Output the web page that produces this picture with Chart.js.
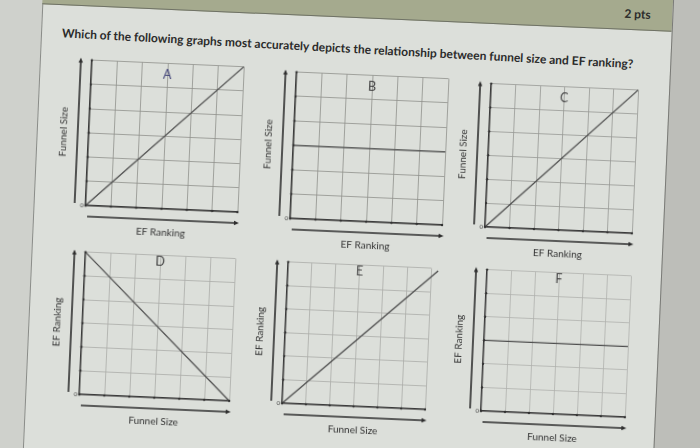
<!DOCTYPE html>
<html><head><meta charset="utf-8">
<script src="https://cdn.jsdelivr.net/npm/chart.js@4.4.1/dist/chart.umd.min.js"></script>
<style>
html,body{margin:0;padding:0;width:700px;height:448px;overflow:hidden;background:#c4c6c1;}
#rot{position:absolute;left:-50px;top:-56px;width:800px;height:560px;transform:rotate(2.5deg);transform-origin:400px 280px;}
#inner{position:absolute;left:50px;top:56px;width:700px;height:448px;}
.bgleft{position:absolute;left:-50px;top:-56px;width:83px;height:560px;background:#cfd1cc;}
.panel{position:absolute;left:33px;top:17px;width:630px;height:500px;background:#dcdfda;border-left:1px solid #8a8c88;}
.band{position:absolute;left:33px;top:-56px;width:630px;height:73px;background:#a5aa8e;border-bottom:1px solid #6f7266;}
.right{position:absolute;left:663px;top:-56px;width:100px;height:560px;background:#bdbeb9;border-left:1px solid #7a7b77;}
#q{position:absolute;left:54px;top:38px;font:bold 12px Lato, sans-serif;color:#2b2b2b;white-space:nowrap;transform-origin:0 50%;transform:rotate(0.6deg);}
#pts{position:absolute;left:615px;top:-6px;font:bold 12px Lato, sans-serif;color:#2b2b2b;}
canvas{position:absolute;}
</style></head>
<body>
<div id="rot"><div id="inner">
<div class="bgleft"></div>
<div class="panel"></div>
<div class="band"></div>
<div class="right"></div>
<div id="q">Which of the following graphs most accurately depicts the relationship between funnel size and EF ranking?</div>
<div id="pts">2 pts</div>
</div></div>
<script>
// ---- data ----
const panelLetters = ['A','B','C','D','E','F'];
const xAxisTitles = ['EF Ranking','EF Ranking','EF Ranking','Funnel Size','Funnel Size','Funnel Size'];
const yAxisTitles = ['Funnel Size','Funnel Size','Funnel Size','EF Ranking','EF Ranking','EF Ranking'];
const lineX = [[0,6],[0,6],[0,6],[0,6],[0,6.3],[0,6]];
const lineY = [[0,6],[3,3],[0,6],[6,0],[0,5.9],[3,3]];
const gridTicks = [0,1,2,3,4,5,6];
const originLabel = '0';

// ---- layout / style ----
const layoutTL = [[85,70.4],[290,72.5],[485.4,75.7],[87.4,261.5],[289.9,262.7],[488.5,262.3]];
const plotSize = [[152,147],[152,148],[147,145],[150,144],[143,143],[144,143]];
const letterDy = [11,11.5,11,6,6,6.5];
const letterColor = ['#45477a','#3f3f3f','#4a4a4a','#3f3f3f','#4a4a4a','#4a4a4a'];
const gridColor = ['#8f908c','#8f908c','#979894','#abaca8','#abaca8','#b0b1ad'];
const Y_W = 31, X_H = 30, PAD_T = 4, PAD_R = 8, GAP = 11;

const decor = {
  id:'decor',
  afterDraw(chart, args, opts){
    const {ctx, chartArea:a, scales:{x,y}} = chart;
    ctx.save();
    ctx.fillStyle = '#333';
    gridTicks.forEach(v=>{
      ctx.beginPath(); ctx.arc(x.getPixelForValue(v), a.bottom, 1.2, 0, Math.PI*2); ctx.fill();
      ctx.beginPath(); ctx.arc(a.left, y.getPixelForValue(v), 1.2, 0, Math.PI*2); ctx.fill();
    });
    ctx.strokeStyle = '#2e2e2e'; ctx.fillStyle = '#2e2e2e'; ctx.lineWidth = 1.6;
    const ax = a.left - GAP, ay = a.bottom + GAP;
    ctx.beginPath(); ctx.moveTo(ax, a.bottom-2); ctx.lineTo(ax, a.top+2); ctx.stroke();
    ctx.beginPath(); ctx.moveTo(ax, a.top-2); ctx.lineTo(ax-2.2, a.top+3); ctx.lineTo(ax+2.2, a.top+3); ctx.closePath(); ctx.fill();
    ctx.beginPath(); ctx.moveTo(a.left+2, ay); ctx.lineTo(a.right-2, ay); ctx.stroke();
    ctx.beginPath(); ctx.moveTo(a.right+2, ay); ctx.lineTo(a.right-3, ay-2.2); ctx.lineTo(a.right-3, ay+2.2); ctx.closePath(); ctx.fill();
    ctx.fillStyle = opts.color; ctx.font = '12.5px Lato, sans-serif';
    ctx.textAlign = 'center'; ctx.textBaseline = 'middle';
    ctx.fillText(opts.letter, (a.left+a.right)/2, a.top + opts.dy);
    ctx.restore();
  }
};

const inner = document.getElementById('inner');
panelLetters.forEach((letter, i)=>{
  const [tx, ty] = layoutTL[i];
  const [w, h] = plotSize[i];
  const cw = Math.round(Y_W + w + PAD_R), ch = Math.round(PAD_T + h + X_H);
  const cv = document.createElement('canvas');
  cv.width = cw; cv.height = ch;
  cv.style.left = (tx - Y_W) + 'px'; cv.style.top = (ty - PAD_T) + 'px';
  cv.style.width = cw + 'px'; cv.style.height = ch + 'px';
  inner.appendChild(cv);
  const grid = {color: gridColor[i], lineWidth: 0.8, drawTicks: false};
  const border = {color: '#3a3a3a', width: 1.4};
  const titleFont = {family: 'Lato', size: 10};
  new Chart(cv, {
    type: 'scatter',
    data: {datasets: [{
      data: lineX[i].map((xv,k)=>({x: xv, y: lineY[i][k]})),
      showLine: true, borderColor: '#4e4e4e', borderWidth: 1.3, pointRadius: 0, clip: false
    }]},
    options: {
      responsive: false, animation: false,
      layout: {padding: {top: PAD_T, right: PAD_R, left: 0, bottom: 0}},
      plugins: {legend: {display: false}, tooltip: {enabled: false},
        decor: {letter: letter, dy: letterDy[i], color: letterColor[i]}},
      scales: {
        x: {type: 'linear', min: 0, max: 6,
          ticks: {stepSize: 1, display: false},
          grid: grid, border: border,
          title: {display: true, text: xAxisTitles[i], font: titleFont, color: '#333', padding: 0},
          afterFit: s => { s.height = X_H; }},
        y: {type: 'linear', min: 0, max: 6,
          ticks: {stepSize: 1, autoSkip: false, padding: 2, font: {family: 'Lato', size: 6}, color: '#444',
            callback: v => v === 0 ? originLabel : ''},
          grid: grid, border: border,
          title: {display: true, text: yAxisTitles[i], font: titleFont, color: '#333', padding: 0},
          afterFit: s => { s.width = Y_W; }}
      }
    },
    plugins: [decor]
  });
});
</script>
</body></html>
